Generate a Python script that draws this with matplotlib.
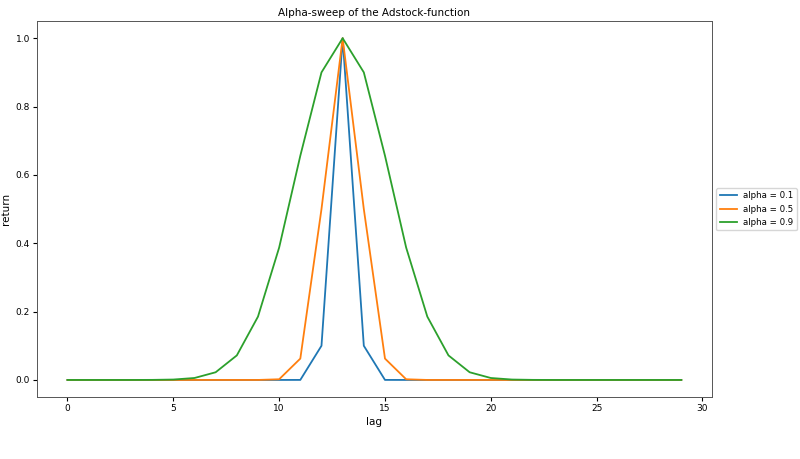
import matplotlib
matplotlib.use("Agg")
import matplotlib.pyplot as plt

lags = list(range(30))
alphas = [0.1, 0.5, 0.9]

ret_01 = [0, 0, 0, 0, 0, 0, 0, 0, 0, 0, 0, 0.0001, 0.1, 1.0, 0.1, 0.0001,
          0, 0, 0, 0, 0, 0, 0, 0, 0, 0, 0, 0, 0, 0]
ret_05 = [0, 0, 0, 0, 0, 0, 0, 0, 0, 0, 0.002, 0.0625, 0.5, 1.0, 0.5, 0.0625,
          0.002, 0, 0, 0, 0, 0, 0, 0, 0, 0, 0, 0, 0, 0]
ret_09 = [0, 0, 0, 0, 0.0002, 0.0012, 0.0057, 0.0225, 0.0718, 0.1853, 0.3874,
          0.6561, 0.9, 1.0, 0.9, 0.6561, 0.3874, 0.1853, 0.0718, 0.0225,
          0.0057, 0.0012, 0.0002, 0, 0, 0, 0, 0, 0, 0]

fig = plt.figure(figsize=(8, 4.59), dpi=100)
ax = fig.add_axes([0.046, 0.135, 0.844, 0.819])

for a, vals in zip(alphas, [ret_01, ret_05, ret_09]):
    ax.plot(lags, vals, label="alpha = {}".format(a), linewidth=1.3)

ax.set_title("Alpha-sweep of the Adstock-function", fontsize=7.5, pad=4)
ax.set_xlabel("lag", fontsize=7.5, labelpad=3)
ax.set_ylabel("return", fontsize=7.5, labelpad=3)
ax.tick_params(labelsize=6.5, length=3, pad=2)
ax.set_xticks([0, 5, 10, 15, 20, 25, 30])
for s in ax.spines.values():
    s.set_linewidth(0.7)
    s.set_color("#555555")
ax.legend(loc="center left", bbox_to_anchor=(1.0, 0.5), fontsize=6.2,
          handletextpad=0.7)

fig.savefig("out.png", dpi=100)
